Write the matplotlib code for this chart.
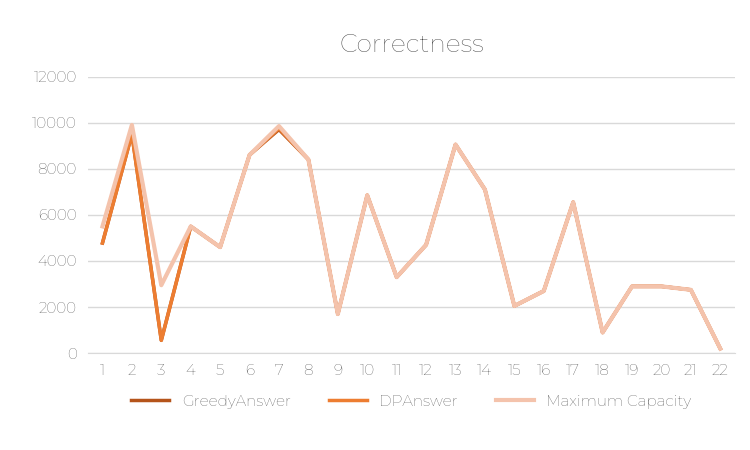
import matplotlib.pyplot as plt

x = list(range(1, 23))
max_capacity = [5500, 9900, 2950, 5500, 4600, 8600, 9850, 8400, 1700, 6850, 3300,
                4700, 9050, 7100, 2050, 2700, 6550, 900, 2900, 2900, 2750, 200]
dp_answer = [4780, 9500, 560, 5500, 4600, 8600, 9750, 8400, 1700, 6850, 3300,
             4700, 9050, 7100, 2050, 2700, 6550, 900, 2900, 2900, 2750, 200]
greedy_answer = [4780, 9500, 560, 5500, 4600, 8600, 9700, 8400, 1700, 6850, 3300,
                 4700, 9050, 7100, 2050, 2700, 6550, 900, 2900, 2900, 2750, 200]

plt.rcParams['font.family'] = ['Montserrat', 'Lato', 'DejaVu Sans']
plt.rcParams['font.weight'] = 'medium'
txt = '#404040'
fig, ax = plt.subplots(figsize=(7.5, 4.5), dpi=100)
fig.subplots_adjust(left=0.117, right=0.98, top=0.83, bottom=0.215)

ax.plot(x, greedy_answer, color='#B5541A', lw=2.5, label='GreedyAnswer')
ax.plot(x, dp_answer, color='#ED7D31', lw=2.5, label='DPAnswer')
ax.plot(x, max_capacity, color='#F4C3AC', lw=3, label='Maximum Capacity')

ax.set_ylim(0, 12000)
ax.set_xlim(0.5, 22.5)
ax.set_yticks(range(0, 12001, 2000))
ax.set_xticks(x)
ax.grid(axis='y', color='#D9D9D9', lw=1)
ax.set_axisbelow(True)
for s in ['top', 'right', 'left']:
    ax.spines[s].set_visible(False)
ax.spines['bottom'].set_color('#D9D9D9')
ax.tick_params(length=0, labelsize=11, colors=txt, pad=8)
ax.set_title('Correctness', fontsize=18, color=txt, pad=18)
ax.legend(loc='upper center', bbox_to_anchor=(0.5, -0.1), ncol=3, frameon=False,
          fontsize=11, labelcolor=txt, handlelength=2.5, columnspacing=2.5)

fig.savefig('out.png')
